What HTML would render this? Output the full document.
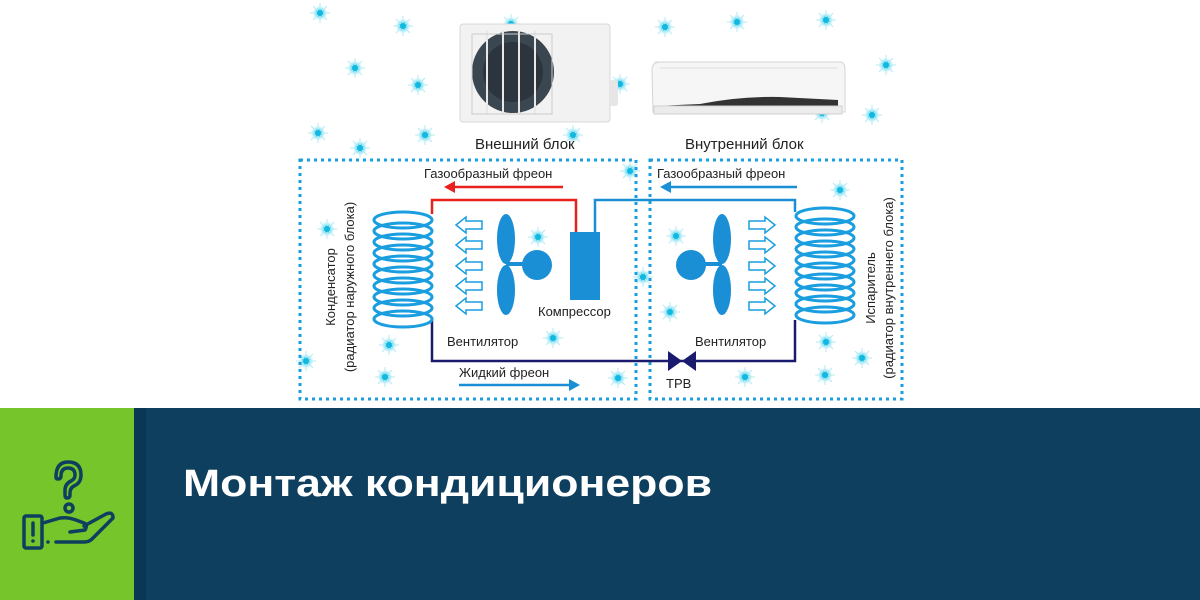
<!DOCTYPE html>
<html><head><meta charset="utf-8"><style>
html,body{margin:0;padding:0;width:1200px;height:600px;overflow:hidden;background:#fff}
svg{display:block}
</style></head><body>
<svg width="1200" height="600" viewBox="0 0 1200 600" xmlns="http://www.w3.org/2000/svg" font-family="Liberation Sans, sans-serif">
<defs>
<radialGradient id="sf"><stop offset="0" stop-color="#1ec8e8"/><stop offset="0.3" stop-color="#1ec8e8"/><stop offset="1" stop-color="#d5f5fc" stop-opacity="0"/></radialGradient>
<g id="flake"><circle r="8" fill="url(#sf)"/><g stroke="#b5ebf6" stroke-width="1"><line x1="-10" y1="0" x2="10" y2="0"/><line x1="0" y1="-10" x2="0" y2="10"/><line x1="-7" y1="-7" x2="7" y2="7"/><line x1="-7" y1="7" x2="7" y2="-7"/></g><circle r="3" fill="#12b8e0"/></g>
<g id="coil" fill="none" stroke="#1a9ee0" stroke-width="3">
<ellipse cx="0" cy="0" rx="29" ry="8"/><ellipse cx="0" cy="11" rx="29" ry="8"/><ellipse cx="0" cy="22" rx="29" ry="8"/><ellipse cx="0" cy="33" rx="29" ry="8"/><ellipse cx="0" cy="44" rx="29" ry="8"/><ellipse cx="0" cy="55" rx="29" ry="8"/><ellipse cx="0" cy="66" rx="29" ry="8"/><ellipse cx="0" cy="77" rx="29" ry="8"/><ellipse cx="0" cy="88" rx="29" ry="8"/><ellipse cx="0" cy="99" rx="29" ry="8"/></g>
<path id="al" d="M0,0 L10,-8 L10,-4 L26,-4 L26,4 L10,4 L10,8 Z" fill="#fff" stroke="#1a9ee0" stroke-width="1.5"/>
<path id="ar" d="M0,0 L-10,-8 L-10,-4 L-26,-4 L-26,4 L-10,4 L-10,8 Z" fill="#fff" stroke="#1a9ee0" stroke-width="1.5"/>
</defs>

<g>
<use href="#flake" x="320" y="13"/><use href="#flake" x="403" y="26"/><use href="#flake" x="355" y="68"/><use href="#flake" x="418" y="85"/><use href="#flake" x="318" y="133"/><use href="#flake" x="360" y="148"/><use href="#flake" x="425" y="135"/><use href="#flake" x="511" y="24"/><use href="#flake" x="578" y="57"/><use href="#flake" x="620" y="84"/><use href="#flake" x="573" y="135"/><use href="#flake" x="630" y="171"/><use href="#flake" x="665" y="27"/><use href="#flake" x="737" y="22"/><use href="#flake" x="826" y="20"/><use href="#flake" x="886" y="65"/><use href="#flake" x="872" y="115"/><use href="#flake" x="822" y="113"/><use href="#flake" x="327" y="229"/><use href="#flake" x="389" y="345"/><use href="#flake" x="385" y="377"/><use href="#flake" x="306" y="361"/><use href="#flake" x="538" y="237"/><use href="#flake" x="553" y="338"/><use href="#flake" x="618" y="378"/><use href="#flake" x="676" y="236"/><use href="#flake" x="670" y="312"/><use href="#flake" x="745" y="377"/><use href="#flake" x="825" y="375"/><use href="#flake" x="862" y="358"/><use href="#flake" x="826" y="342"/><use href="#flake" x="840" y="190"/><use href="#flake" x="643" y="277"/>
</g>

<g>
<rect x="460" y="24" width="150" height="98" rx="3" fill="#f2f2f2" stroke="#d8d8d8"/>
<rect x="610" y="80" width="8" height="26" rx="3" fill="#e6e6e6"/>
<circle cx="513" cy="72" r="41" fill="#3a4650"/>
<circle cx="513" cy="72" r="30" fill="#2c353e"/>
<g stroke="#e8e8e8" stroke-width="2"><line x1="487" y1="30" x2="487" y2="115"/><line x1="503" y1="30" x2="503" y2="115"/><line x1="519" y1="30" x2="519" y2="115"/><line x1="535" y1="30" x2="535" y2="115"/></g>
<rect x="472" y="34" width="80" height="80" fill="none" stroke="#ccc"/>
</g>
<text x="475" y="149" font-size="15" fill="#222">Внешний блок</text>

<g>
<path d="M655,62 L840,62 Q845,62 845,70 L845,112 L653,112 L652,70 Q652,62 660,62Z" fill="#f6f6f6" stroke="#d4d4d4"/>
<line x1="660" y1="68" x2="838" y2="68" stroke="#ddd"/>
<path d="M700,104 Q740,96 780,97 L838,100 L838,106 L655,106Z" fill="#333"/>
<rect x="654" y="106" width="188" height="8" fill="#ececec" stroke="#cfcfcf"/>
</g>
<text x="685" y="149" font-size="15" fill="#222">Внутренний блок</text>

<g fill="none" stroke="#1a9ee0" stroke-width="3" stroke-dasharray="3 4">
<rect x="300" y="160" width="336" height="239"/>
<rect x="650" y="160" width="252" height="239"/>
</g>

<text x="424" y="178" font-size="13" fill="#222">Газообразный фреон</text>
<line x1="452" y1="187" x2="563" y2="187" stroke="#e8201e" stroke-width="2.5"/>
<path d="M444,187 L455,181 L455,193Z" fill="#e8201e"/>
<text x="657" y="178" font-size="13" fill="#222">Газообразный фреон</text>
<line x1="668" y1="187" x2="797" y2="187" stroke="#1a8fd6" stroke-width="2.5"/>
<path d="M660,187 L671,181 L671,193Z" fill="#1a8fd6"/>

<polyline points="432,214 432,200 576,200 576,232" fill="none" stroke="#e8201e" stroke-width="2.5"/>
<polyline points="595,232 595,200 795,200 795,212" fill="none" stroke="#1a8fd6" stroke-width="2.5"/>
<polyline points="432,318 432,361 795,361 795,320" fill="none" stroke="#1a1a6e" stroke-width="2.5"/>

<use href="#coil" x="403" y="220"/>
<use href="#coil" x="825" y="216"/>

<rect x="570" y="232" width="30" height="68" fill="#1a8fd6"/>
<text x="538" y="316" font-size="13" fill="#222">Компрессор</text>

<g fill="#1a8fd6">
<ellipse cx="506" cy="239" rx="9" ry="25"/><ellipse cx="506" cy="290" rx="9" ry="25"/>
<rect x="506" y="262" width="22" height="4"/><circle cx="537" cy="265" r="15"/>
<ellipse cx="722" cy="239" rx="9" ry="25"/><ellipse cx="722" cy="290" rx="9" ry="25"/>
<rect x="700" y="262" width="22" height="4"/><circle cx="691" cy="265" r="15"/>
</g>
<g>
<use href="#al" x="456" y="225"/><use href="#al" x="456" y="245"/><use href="#al" x="456" y="266"/><use href="#al" x="456" y="286"/><use href="#al" x="456" y="306"/>
<use href="#ar" x="775" y="225"/><use href="#ar" x="775" y="245"/><use href="#ar" x="775" y="266"/><use href="#ar" x="775" y="286"/><use href="#ar" x="775" y="306"/>
</g>
<text x="447" y="346" font-size="13" fill="#222">Вентилятор</text>
<text x="695" y="346" font-size="13" fill="#222">Вентилятор</text>

<path d="M668,351 L682,361 L668,371Z M696,351 L682,361 L696,371Z" fill="#1a1a6e"/>
<text x="666" y="388" font-size="13" fill="#222">ТРВ</text>

<text x="459" y="377" font-size="13" fill="#222">Жидкий фреон</text>
<line x1="459" y1="385" x2="572" y2="385" stroke="#1a8fd6" stroke-width="2.5"/>
<path d="M580,385 L569,379 L569,391Z" fill="#1a8fd6"/>

<text transform="translate(335,287) rotate(-90)" text-anchor="middle" font-size="13" fill="#222">Конденсатор</text>
<text transform="translate(354,287) rotate(-90)" text-anchor="middle" font-size="13" fill="#222">(радиатор наружного блока)</text>
<text transform="translate(875,288) rotate(-90)" text-anchor="middle" font-size="13" fill="#222">Испаритель</text>
<text transform="translate(893,288) rotate(-90)" text-anchor="middle" font-size="13" fill="#222">(радиатор внутреннего блока)</text>

<rect x="0" y="408" width="134" height="192" fill="#76c52a"/>
<rect x="134" y="408" width="12" height="192" fill="#0a3756"/>
<rect x="146" y="408" width="1054" height="192" fill="#0f3f5e"/>
<text x="183" y="496" font-size="38" font-weight="bold" fill="#fff" textLength="529" lengthAdjust="spacingAndGlyphs">Монтаж кондиционеров</text>

<g fill="none" stroke="#0f3f5e" stroke-width="3.5" stroke-linecap="round" stroke-linejoin="round">
<path d="M56,477 Q56,462 68,462 Q81,462 81,475 Q81,483 74,486 Q70,488 70,493 L70,495 Q70,498 67,498 Q65,498 65,495 L65,490 Q65,484 71,481 Q75,479 75,475 Q75,468 68,468 Q61,468 61,476 Q61,479 58,479 Q56,479 56,477Z"/>
<circle cx="69" cy="508" r="4"/>
<rect x="24" y="516" width="18" height="32" rx="2"/>
<line x1="33" y1="523" x2="33" y2="535"/>
<path d="M43,523 L60,518 Q68,517 76,520 L84,523 Q88,525 85,530 L70,532"/>
<path d="M84,526 L106,514 Q113,511 113,518 L92,539 Q89,542 84,542 L56,542"/>
</g>
<circle cx="33" cy="541" r="1.8" fill="#0f3f5e"/>
<circle cx="48" cy="542" r="1.8" fill="#0f3f5e"/>
</svg>
</body></html>
